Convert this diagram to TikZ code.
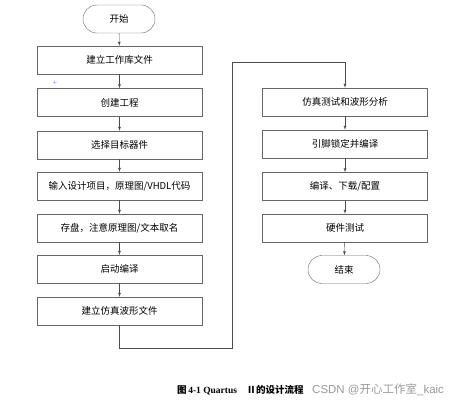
\documentclass[tikz,border=0pt]{standalone}
\usepackage{fontspec}
\setmainfont{Liberation Serif}
\newfontfamily\cjk{Noto Sans CJK SC}
\newfontfamily\wmfont{Liberation Sans}
\tikzset{
  box/.style={draw=black!60, minimum width=165pt, minimum height=28pt, inner sep=0pt,
    font=\cjk\fontsize{9.5}{11}\selectfont},
  term/.style={box, rounded corners=14pt, minimum width=72pt},
  flow/.style={-latex, black!70}
}
\begin{document}
\begin{tikzpicture}[x=1pt, y=-1pt]
\useasboundingbox (0,0) rectangle (474,405);
% left column
\node[term] (start) at (119,19) {开始};
\node[box] (lib) at (119.5,60) {建立工作库文件};
\node[box] (proj) at (119.5,102.5) {创建工程};
\node[box] (dev) at (119.5,145) {选择目标器件};
\node[box] (input) at (119.5,186) {输入设计项目，原理图/VHDL代码};
\node[box] (save) at (119.5,228) {存盘，注意原理图/文本取名};
\node[box] (comp) at (119.5,269) {启动编译};
\node[box] (wave) at (119.5,311) {建立仿真波形文件};
% right column
\node[box] (sim) at (345,102) {仿真测试和波形分析};
\node[box] (pin) at (345,144) {引脚锁定并编译};
\node[box] (load) at (345,186.5) {编译、下载/配置};
\node[box] (hw) at (345,228) {硬件测试};
\node[term] (stop) at (344,269.5) {结束};

\node[text=blue!55, font=\footnotesize, inner sep=0pt] (plus) at (55,83) {+};

\draw[flow] (start) -- (lib);
\draw[flow] (lib) -- (proj);
\draw[flow] (proj) -- (dev);
\draw[flow] (dev) -- (input);
\draw[flow] (input) -- (save);
\draw[flow] (save) -- (comp);
\draw[flow] (comp) -- (wave);

\coordinate (turnb) at (232,348);
\coordinate (turnt) at (232,62);
\draw[flow] (wave.south) |- (turnb) -- (turnt) -| (sim.north);

\draw[flow] (sim) -- (pin);
\draw[flow] (pin) -- (load);
\draw[flow] (load) -- (hw);
\draw[flow] (hw) -- (stop);

% caption
\node[font=\bfseries\fontsize{9.5}{11}\selectfont, anchor=west, inner sep=0pt] (cap) at (177,390)
  {{\cjk 图}\,4-1 Quartus\quad {\cjk Ⅱ的设计流程}};
\node[font=\wmfont\fontsize{11.5}{13}\selectfont, text=black!40, anchor=west, inner sep=0pt] (mark) at (312,390)
  {CSDN @{\cjk 开心工作室}\_kaic};
\end{tikzpicture}
\end{document}
